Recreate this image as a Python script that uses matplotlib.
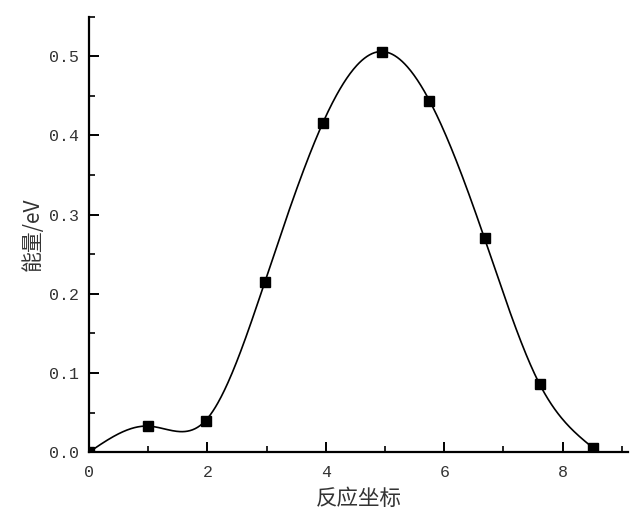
import numpy as np
import matplotlib
matplotlib.use("Agg")
import matplotlib.pyplot as plt
from matplotlib.ticker import MultipleLocator

# Data
reaction_coord = [0.0, 1.0, 1.97, 2.97, 3.95, 4.95, 5.75, 6.68, 7.61, 8.52]
energy_ev = [0.0, 0.033, 0.040, 0.215, 0.416, 0.506, 0.444, 0.270, 0.086, 0.005]
x_label = "反应坐标"
y_label = "能量/eV"


def natural_cubic_spline(x, y, xs):
    x = np.asarray(x, float)
    y = np.asarray(y, float)
    n = len(x)
    h = np.diff(x)
    A = np.zeros((n, n))
    b = np.zeros(n)
    A[0, 0] = 1
    A[-1, -1] = 1
    for i in range(1, n - 1):
        A[i, i - 1] = h[i - 1]
        A[i, i] = 2 * (h[i - 1] + h[i])
        A[i, i + 1] = h[i]
        b[i] = 3 * ((y[i + 1] - y[i]) / h[i] - (y[i] - y[i - 1]) / h[i - 1])
    c = np.linalg.solve(A, b)
    bb = np.zeros(n - 1)
    d = np.zeros(n - 1)
    for i in range(n - 1):
        bb[i] = (y[i + 1] - y[i]) / h[i] - h[i] * (2 * c[i] + c[i + 1]) / 3
        d[i] = (c[i + 1] - c[i]) / (3 * h[i])
    idx = np.clip(np.searchsorted(x, xs) - 1, 0, n - 2)
    dx = xs - x[idx]
    return y[idx] + bb[idx] * dx + c[idx] * dx ** 2 + d[idx] * dx ** 3


fig = plt.figure(figsize=(6.4, 5.21), dpi=100)
ax = fig.add_axes([0.139, 0.132, 0.842, 0.836])

xs = np.linspace(reaction_coord[0], reaction_coord[-1], 600)
ys = natural_cubic_spline(reaction_coord, energy_ev, xs)
ax.plot(xs, ys, color="black", lw=1.2, zorder=3)
ax.plot(reaction_coord, energy_ev, linestyle="none", marker="s", ms=7,
        color="black", zorder=4)

ax.set_xlim(0, 9.1)
ax.set_ylim(0, 0.55)
ax.xaxis.set_major_locator(MultipleLocator(2))
ax.xaxis.set_minor_locator(MultipleLocator(1))
ax.yaxis.set_major_locator(MultipleLocator(0.1))
ax.yaxis.set_minor_locator(MultipleLocator(0.05))
ax.set_xticks([0, 2, 4, 6, 8])
ax.set_yticks([0.0, 0.1, 0.2, 0.3, 0.4, 0.5])
ax.set_yticklabels(["0.0", "0.1", "0.2", "0.3", "0.4", "0.5"])

for s in ["top", "right"]:
    ax.spines[s].set_visible(False)
for s in ["left", "bottom"]:
    ax.spines[s].set_linewidth(1.6)

ax.tick_params(which="major", direction="in", length=7, width=1.4,
               labelsize=12, colors="black")
ax.tick_params(axis="x", which="major", pad=9)
ax.tick_params(axis="y", which="major", pad=7)
ax.tick_params(which="minor", direction="in", length=4, width=1.2)
for lab in ax.get_xticklabels() + ax.get_yticklabels():
    lab.set_family("Liberation Mono")
    lab.set_color("#333333")

ax.set_xlabel(x_label, fontsize=15.5, family=["Noto Sans CJK SC", "DejaVu Sans"],
              color="#333333", labelpad=6)
ax.set_ylabel(y_label, fontsize=15, family=["Noto Sans CJK SC", "DejaVu Sans"],
              color="#333333", labelpad=4)

fig.savefig("out.png", dpi=100)
